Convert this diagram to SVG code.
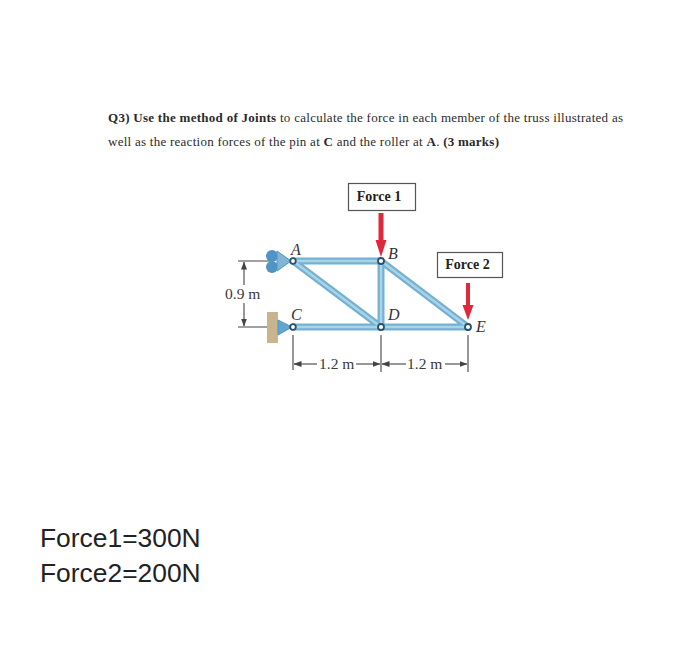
<svg xmlns="http://www.w3.org/2000/svg" width="700" height="664" viewBox="0 0 700 664">
<style>
.t{font-family:"Liberation Serif",serif;fill:#2b2b2b}
.q{font-size:13px}
.b{font-weight:700;fill:#222;font-size:14px}
.dim{font-size:15.500px;fill:#3a3a3a}
.jl{font-size:16px;font-style:italic;fill:#333}
.big{font-family:"Liberation Sans",Arial,sans-serif;font-size:26.400px;fill:#222}
.m1{stroke:#74b1d2;stroke-width:7;fill:none}
.m2{stroke:#a9d3e6;stroke-width:2.500;fill:none}
.ln{stroke:#444;stroke-width:1.100;fill:none}
.box{fill:#fff;stroke:#555;stroke-width:1.200}
.pin{fill:#fff;stroke:#27506a;stroke-width:1.800}
.red{fill:#e0283c}
.bl{fill:#4f94c4}
</style>
<defs>
<marker id="ah" markerWidth="8" markerHeight="6" refX="7.500" refY="3" orient="auto-start-reverse" markerUnits="userSpaceOnUse"><path d="M0 0L8 3L0 6Z" fill="#444"/></marker>
</defs>
<rect width="700" height="664" fill="#fff"/>
<g id="question">
<text class="t q" x="108" y="122" textLength="515" lengthAdjust="spacing"><tspan font-weight="700">Q3) Use the method of Joints</tspan> to calculate the force in each member of the truss illustrated as</text>
<text class="t q" x="108" y="146" textLength="391" lengthAdjust="spacing">well as the reaction forces of the pin at <tspan font-weight="700">C</tspan> and the roller at <tspan font-weight="700">A</tspan>. <tspan font-weight="700">(3 marks)</tspan></text>
</g>
<g id="connectors">
<path class="m1" d="M293 261H381M293 327H468M293 261L381 327M381 261V327M381 261L468 327"/>
<path class="m2" d="M293 261H381M293 327H468M293 261L381 327M381 261V327M381 261L468 327"/>
<path class="ln" d="M238 261H270M238 327H268M293 335V370M381 335V372M468 335V372"/>
<path class="ln" marker-end="url(#ah)" d="M244 285V262"/>
<path class="ln" marker-end="url(#ah)" d="M244 303V326"/>
<path class="ln" marker-start="url(#ah)" d="M294 364H317"/>
<path class="ln" marker-end="url(#ah)" d="M356 364H380"/>
<path class="ln" marker-start="url(#ah)" d="M382 364H406"/>
<path class="ln" marker-end="url(#ah)" d="M445 364H467"/>
</g>
<g id="support-A">
<circle class="bl" cx="272" cy="256" r="6"/>
<circle class="bl" cx="272" cy="267" r="6"/>
<path d="M277 251L291 261L277 271Z" fill="#7fb6d6" stroke="#4f94c4"/>
</g>
<g id="support-C">
<rect x="267" y="312" width="11" height="31" fill="#c9b48c"/>
<path d="M278 320L292 327L278 335Z" fill="#62a6cf" stroke="#4f94c4"/>
</g>
<g id="node-A"><circle class="pin" cx="293" cy="261" r="2.800"/><text class="t jl" x="291" y="255">A</text></g>
<g id="node-C"><circle class="pin" cx="293" cy="327" r="2.800"/><text class="t jl" x="291" y="320">C</text></g>
<g id="node-B"><circle class="pin" cx="381" cy="261" r="3"/><text class="t jl" x="388" y="259">B</text></g>
<g id="node-D"><circle class="pin" cx="381" cy="327" r="3"/><text class="t jl" x="388" y="320">D</text></g>
<g id="node-E"><circle class="pin" cx="468" cy="327" r="3"/><text class="t jl" x="476" y="332">E</text></g>
<g id="force-1">
<rect class="box" x="348.500" y="183.500" width="67" height="27"/>
<text class="t b" x="379" y="201" text-anchor="middle">Force 1</text>
<path class="red" d="M378.500 213H383.500V240H386.500L381 257L375.500 240H378.500Z"/>
</g>
<g id="force-2">
<rect class="box" x="437.500" y="252.500" width="65" height="25"/>
<text class="t b" x="467.500" y="269" text-anchor="middle">Force 2</text>
<path class="red" d="M466 283H470V305H473.500L468 320L462.500 305H466Z"/>
</g>
<g id="dimensions">
<text class="t dim" x="225" y="299">0.9 m</text>
<text class="t dim" x="319" y="369">1.2 m</text>
<text class="t dim" x="407" y="369">1.2 m</text>
</g>
<g id="values">
<text class="big" x="40" y="547">Force1=300N</text>
<text class="big" x="40" y="582">Force2=200N</text>
</g>
</svg>
